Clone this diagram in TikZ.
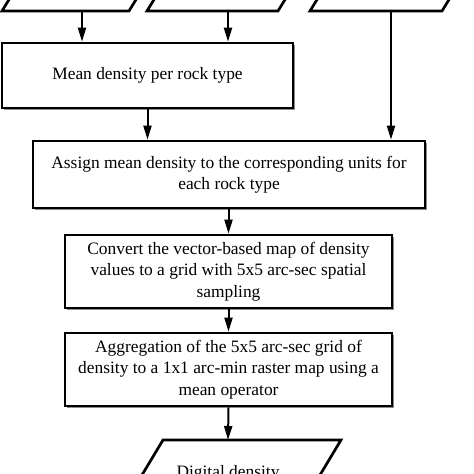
\documentclass[tikz,border=0pt]{standalone}
\usepackage{fontspec}
\setmainfont{Liberation Serif}
\usetikzlibrary{arrows.meta,shadows}
\begin{document}
\begin{tikzpicture}[x=1pt,y=-1pt,
  box/.style={draw, line width=2.7pt, fill=white, align=center,
    font=\fontsize{17.4}{21.5}\selectfont, inner sep=0pt,
    drop shadow={shadow xshift=2.2pt, shadow yshift=-2.2pt, fill=black, opacity=0.45}},
  para/.style={draw, line width=2.7pt, fill=white, line join=miter},
  arrow/.style={-{Triangle[length=14pt,width=8pt]}, line width=2pt},
  txt/.style={font=\fontsize{17.4}{21.5}\selectfont}]
\useasboundingbox (0,0) rectangle (474,474);
\clip (0,0) rectangle (474,474);
\fill[white] (0,0) rectangle (474,474);

% top input parallelograms (cut off)
\draw[para] (2,11) -- (129,11) -- (148,-20) -- (21,-20) -- cycle;
\draw[para] (147,11) -- (278,11) -- (297,-20) -- (166,-20) -- cycle;
\draw[para] (310,11) -- (442,11) -- (461,-20) -- (329,-20) -- cycle;
\coordinate (p1b) at (82,11);
\coordinate (p2b) at (228,11);
\coordinate (p3b) at (391,11);

\node[box, minimum width=291pt, minimum height=65pt] (b1) at (147.5,75.5)
  {Mean density per rock type};
\node[box, minimum width=392pt, minimum height=67pt] (b2) at (229,174.5)
  {Assign mean density to the corresponding units for\\each rock type};
\node[box, minimum width=327pt, minimum height=73pt] (b3) at (228.5,271.5)
  {Convert the vector-based map of density\\values to a grid with 5x5 arc-sec spatial\\sampling};
\node[box, minimum width=327pt, minimum height=73pt] (b4) at (228.5,369.5)
  {Aggregation of the 5x5 arc-sec grid of\\density to a 1x1 arc-min raster map using a\\mean operator};

% bottom output parallelogram (cut off)
\draw[para] (163,440) -- (341,440) -- (311,490) -- (133,490) -- cycle;
\coordinate (p5t) at (228,440);
\node[txt, anchor=base] (out) at (228,477) {Digital density};

\draw[arrow] (p1b) -- (p1b |- b1.north);
\draw[arrow] (p2b) -- (p2b |- b1.north);
\draw[arrow] (p3b) -- (p3b |- b2.north);
\draw[arrow] (b1.south) -- (b1.south |- b2.north);
\draw[arrow] (b3.north |- b2.south) -- (b3.north);
\draw[arrow] (b3.south) -- (b4.north);
\draw[arrow] (b4.south) -- (p5t);
\end{tikzpicture}
\end{document}
